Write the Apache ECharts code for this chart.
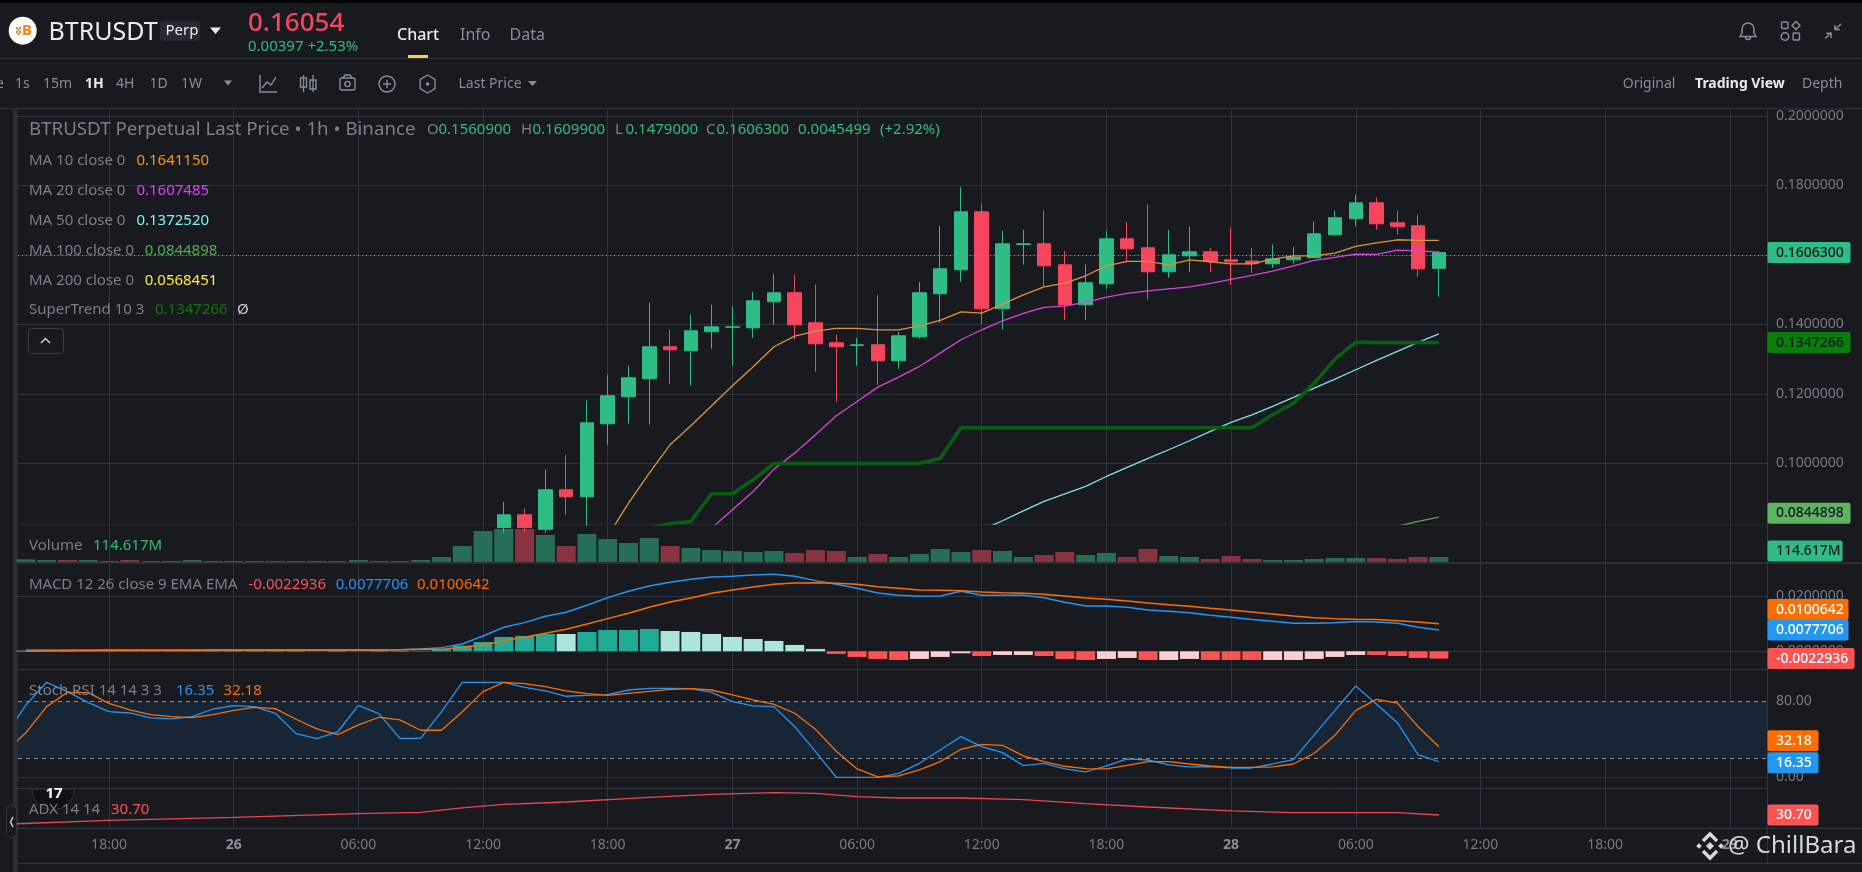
<!DOCTYPE html>
<html><head><meta charset="utf-8">
<style>html,body{margin:0;padding:0;background:#000;overflow:hidden}#c{width:1862px;height:872px}</style>
<script src="https://cdn.jsdelivr.net/npm/echarts@6/dist/echarts.min.js"></script>
</head><body><div id="c"></div>
<script>
// ---------- data (x index = hours since 25th 14:00) ----------
const xTickIdx = [4,10,16,22,28,34,40,46,52,58,64,70,76,82];
const xTickLabels = ['18:00','26','06:00','12:00','18:00','27','06:00','12:00','18:00','28','06:00','12:00','18:00','29'];
const priceTicks = [0.10,0.12,0.14,0.16,0.18,0.20];
const macdTicks = [0,0.02];
const stochTicks = [0,40,80];

const candleStart = 23;
const candleOpen = [.0815,.08518,.0810,.09238,.09036,.11137,.11914,.12432,.13353,.13238,.13784,.13915,.13899,.14648,.14907,.14043,.13468,.1339,.1341,.1295,.1364,.14878,.15568,.17237,.14446,.16297,.16317,.15712,.14561,.15165,.1646,.16201,.15511,.15971,.16086,.15856,.15818,.15741,.15856,.15914,.16576,.17036,.17496,.16921,.16835,.15609];
const candleClose = [.08518,.0815,.09238,.09036,.11166,.11943,.12461,.13353,.13266,.13813,.13928,.13928,.14676,.14907,.13986,.13439,.13353,.1341,.1295,.13669,.14907,.15597,.17237,.14446,.16317,.16317,.15683,.14561,.15194,.1646,.16173,.15511,.16,.16086,.15818,.15799,.15741,.15885,.15933,.16604,.17065,.17496,.16892,.16806,.15597,.16063];
const candleLow = [.0800,.0800,.0800,.08518,.0820,.10533,.11137,.11108,.12288,.1223,.13295,.12806,.13612,.13986,.13554,.12633,.1177,.12806,.12259,.12719,.13583,.14043,.15223,.14014,.13842,.15712,.15079,.1413,.1413,.15022,.15799,.14705,.15338,.15511,.15511,.15137,.15482,.15626,.15741,.15914,.16547,.16835,.16719,.16576,.15367,.1479];
const candleHigh = [.08892,.08691,.09813,.10245,.11799,.12547,.12806,.14619,.13842,.14273,.14561,.14504,.14935,.15453,.15424,.15137,.13698,.13612,.14849,.13784,.15223,.16835,.17957,.17468,.16691,.16719,.17266,.16115,.15712,.16691,.1695,.17439,.16719,.16806,.16201,.16777,.16201,.16288,.1623,.1695,.17266,.17727,.1764,.17266,.17151,.16099];
const lastClose = 0.16063;

const ma10Start = 28;
const ma10 = [.07895,.08854,.09717,.10533,.11079,.11655,.1223,.12777,.13353,.1366,.13803,.1388,.1388,.13842,.13842,.13957,.1411,.1436,.14321,.1458,.14849,.15079,.15185,.15396,.15683,.15808,.15808,.15712,.15856,.15799,.15741,.15741,.15875,.15971,.15971,.16048,.1624,.16345,.16432,.16412,.16412];
const ma20Start = 33;
const ma20 = [.08135,.08662,.0919,.09832,.10293,.1082,.11367,.1178,.12192,.1248,.12787,.1317,.13554,.13842,.14101,.14312,.14484,.14532,.14628,.14782,.14887,.14964,.15022,.15079,.15175,.1529,.15405,.1553,.15683,.15837,.15923,.16019,.1601,.16134,.16115,.16075];
const ma50Start = 46;
const ma50 = [.08087,.08346,.08633,.08902,.09123,.09334,.09621,.0988,.10139,.10389,.10648,.10916,.11175,.11396,.11636,.11895,.12163,.12422,.12691,.12959,.13218,.13477,.13725];
const ma100Start = 66;
const ma100 = [.08192,.08326,.08449];
const superStart = 29;
const superTrend = [.0810,.0812,.08269,.08326,.09123,.09123,.09525,.09995,.09995,.09995,.09995,.09995,.09995,.09995,.09995,.10139,.11022,.11022,.11022,.11022,.11022,.11022,.11022,.11022,.11022,.11022,.11022,.11022,.11022,.11022,.11022,.11396,.11732,.12307,.12998,.13487,.13473,.13473,.13473,.13473];

const volumeM = [61,46,46,46,23,46,23,23,46,23,23,23,23,23,23,23,46,23,23,46,115,367,711,756,756,619,367,642,527,435,550,367,321,275,252,229,252,206,275,252,115,183,115,183,298,229,275,252,115,160,229,160,206,115,298,138,115,69,138,69,46,46,69,92,92,92,69,115,114.617];
const volumeUp = [1,1,0,1,1,0,0,1,1,1,1,0,0,0,1,0,1,0,0,1,1,1,1,1,0,1,0,1,1,1,1,0,1,1,1,1,1,0,0,0,1,0,1,1,1,1,0,1,1,0,0,1,1,0,0,1,1,0,0,0,1,1,1,1,1,0,0,0,1];

const macdHist = [.0002,.0002,.0002,.0002,.0002,.0002,.0002,.0002,.0002,.0002,.0002,.0002,.0002,.0002,.0002,.0002,.0002,.0002,-.0002,.0002,.00073,.00206,.00339,.00521,.00558,.0063,.0063,.00703,.00776,.00776,.00812,.00739,.00703,.0063,.00521,.00448,.00376,.0023,.00085,-.00097,-.00206,-.00279,-.00315,-.00279,-.00206,-.00073,-.0017,-.00133,-.00133,-.0017,-.00279,-.00315,-.00279,-.00242,-.00315,-.00315,-.00279,-.00315,-.00315,-.00315,-.00315,-.00315,-.00279,-.00206,-.00133,-.00133,-.0017,-.00242,-.00265];
const macdTone = 'LLLLLLLLLLLLLLTLTLRTTTTTTTLTTTTLLLLLLLLRRRRPPPRPPRRRPPRPPRRRPPPPPRRRR'.split('');
const macdLine = [.0005,.0005,.0005,.0005,.0005,.0005,.0005,.0005,.0005,.0005,.0006,.0006,.0006,.0006,.0006,.0006,.0006,.0006,.0006,.00085,.00133,.00267,.00558,.00873,.01042,.01273,.01418,.01673,.01951,.02182,.02376,.02509,.02618,.02703,.02727,.02776,.028,.02727,.0257,.02436,.02291,.02121,.02036,.02,.02012,.02182,.02036,.02036,.02036,.01951,.01782,.01648,.01648,.016,.01503,.01455,.01406,.01309,.01236,.01152,.01091,.01018,.01018,.01042,.01079,.01067,.01018,.00873,.00777];
const macdSignal = [.0000,.0001,.0002,.0003,.0004,.0004,.0004,.0004,.0004,.0005,.0005,.0005,.0005,.0005,.0005,.0005,.0005,.0005,.0006,.00073,.00073,.00145,.0023,.00388,.00509,.00655,.008,.00994,.01188,.01382,.016,.01794,.01939,.02109,.0223,.02339,.02436,.02485,.02497,.02473,.02436,.02351,.02291,.0223,.02218,.02206,.02158,.02133,.02109,.02073,.02012,.01939,.01891,.0183,.01758,.01697,.01636,.01564,.01503,.0143,.01358,.01285,.01224,.01188,.01164,.01152,.01115,.01067,.01006];

const stochStart = -1;
const stochK = [42.8,76.1,100,90.2,78.6,69.1,67.7,62.5,61.4,63.9,71.9,75.4,74.4,67.4,46,40.7,47.7,75.8,66.7,41,41,69.1,100,100,100,94.7,90.9,85.3,86.3,87,91.9,93.7,93.7,93.3,89.5,79.6,75.1,74.4,53.3,27,0,0,0,4.2,14.7,28.8,42.8,32.3,26,12.3,14.7,8.8,5.6,11.9,19.3,18.2,13,10.9,11.2,9.8,9.8,14,18.6,44.6,70.5,96.1,76.8,57.5,23.9,16.35];
const stochD = [27,47,74.4,89.5,89.1,77.9,70.9,66,63.9,62.8,66,70.5,73.7,72.3,61.1,50.9,44.9,55.1,63.2,60.4,49.5,49.5,69.1,90.2,100,98.6,95.4,90.9,88.1,86.3,88.4,90.5,92.6,93.3,91.9,86.7,81.4,76.8,67.4,50.5,27.4,8.8,.4,1.4,7.7,16.5,29.5,34.7,33.7,22.5,16.5,11.6,9.1,8.8,12.6,16.5,16.5,14,11.9,10.5,10.5,10.9,14,25.3,44.2,70.5,82.1,78.2,53.3,32.18];

const adxIdx = [-1,4,10,16,19,21,23,26,30,33,36,38,40,42,45,48,51,54,58,61,66,68];
const adxVal = [16.5,22.5,27.1,32.75,34.8,41.5,47.1,50.7,57.9,62.5,65.05,64,58.9,56.9,56.9,54.3,48.1,43,36.9,34.3,34.3,30.7];

// ---------- palette / layout ----------
const BG='#181A20', GRID='#30343E', SEP='#2F3542', MUTED='#787B86', HDR='#848E9C';
const UP='#2EBD85', DOWN='#F6465D';
const toneColor={T:'#22AB94',L:'#ACE5DC',R:'#FF5252',P:'#FFCDD2'};
const PLOT_L=18, PLOT_R=1767;
const FONT='"Noto Sans"';
const X_MIN=-0.38, X_MAX=83.79;
const panes=[
 {top:108,height:416,min:0.08253,max:0.20224},
 {top:524,height:38,min:0,max:871},
 {top:562.7,height:106.6,min:-0.00655,max:0.03222},
 {top:669.3,height:119,min:-11.6,max:113.7},
 {top:788.3,height:40,min:10.2,max:71.8}
];
const pts=(start,vals)=>vals.map((v,k)=>[start+k,v]);
const lineS=(name,g,data,color,width)=>({name,type:'line',xAxisIndex:g,yAxisIndex:g,data,showSymbol:false,symbol:'none',clip:true,animation:false,silent:true,lineStyle:{color,width},z:4});

const chart=echarts.init(document.getElementById('c'),null,{renderer:'canvas',width:1862,height:872});

const yTicks=[priceTicks,null,macdTicks,stochTicks,null];
const yFmt=[v=>v.toFixed(7),null,v=>v.toFixed(7),v=>v.toFixed(2),null];

const option={
 backgroundColor:BG,animation:false,
 grid:panes.map(p=>({left:PLOT_L,width:PLOT_R-PLOT_L,top:p.top,height:p.height,containLabel:false,show:false})),
 xAxis:panes.map((p,i)=>({
   type:'value',gridIndex:i,min:X_MIN,max:X_MAX,
   axisLine:{show:false},
   axisTick:{show:false,customValues:xTickIdx},
   splitLine:{show:true,lineStyle:{color:GRID,width:1}},
   axisLabel:i===4?{show:true,customValues:xTickIdx,color:MUTED,fontSize:14,fontFamily:FONT,margin:10,
      hideOverlap:false,showMinLabel:true,showMaxLabel:true,
      formatter:v=>{const s=xTickLabels[xTickIdx.indexOf(v)]||'';return s.length===2?'{b|'+s+'}':s;},
      rich:{b:{fontWeight:'bold',fontSize:14,fontFamily:FONT,color:'#8A8F9B'}}}:{show:false}
 })),
 yAxis:panes.map((p,i)=>{
   const t=yTicks[i];
   return {type:'value',gridIndex:i,position:'right',min:p.min,max:p.max,
     axisLine:{show:false},
     axisTick:t?{show:false,customValues:t}:{show:false},
     splitLine:{show:!!t,lineStyle:{color:GRID,width:1}},
     axisLabel:t?{show:true,customValues:t,formatter:yFmt[i],color:MUTED,fontSize:14,fontFamily:FONT,margin:9,padding:[2,0,0,0],showMinLabel:true,showMaxLabel:true}:{show:false}
   };
 }),
 series:[
  {name:'Candles',type:'candlestick',xAxisIndex:0,yAxisIndex:0,barWidth:14,clip:true,silent:true,z:3,animation:false,
   data:candleOpen.map((o,k)=>[candleStart+k,o,candleClose[k],candleLow[k],candleHigh[k]]),
   encode:{x:0,y:[1,2,3,4]},
   itemStyle:{color:UP,color0:DOWN,borderColor:UP,borderColor0:DOWN,borderWidth:1},
   markLine:{silent:true,symbol:'none',animation:false,label:{show:false},
     lineStyle:{color:UP,type:[1,3],width:1},data:[{yAxis:lastClose}]}},
  lineS('MA10',0,pts(ma10Start,ma10),'#E2933A',1.3),
  lineS('MA20',0,pts(ma20Start,ma20),'#D944DC',1.3),
  lineS('MA50',0,pts(ma50Start,ma50),'#7FE3E8',1.3),
  lineS('MA100',0,pts(ma100Start,ma100),'#5BA85E',1.3),
  lineS('SuperTrend',0,pts(superStart,superTrend),'#0B5E10',3.6),
  {name:'Volume',type:'bar',xAxisIndex:1,yAxisIndex:1,barWidth:19,silent:true,animation:false,z:3,
   data:volumeM.map((v,k)=>({value:[k,v],itemStyle:{color:volumeUp[k]?'#266E58':'#8A3340'}}))},
  {name:'Hist',type:'bar',xAxisIndex:2,yAxisIndex:2,barWidth:19,silent:true,animation:false,z:3,
   data:macdHist.map((v,k)=>({value:[k,v],itemStyle:{color:toneColor[macdTone[k]]}}))},
  lineS('MACD',2,pts(0,macdLine),'#2196F3',1.5),
  lineS('Signal',2,pts(0,macdSignal),'#FF6D00',1.5),
  {name:'Band',type:'line',xAxisIndex:3,yAxisIndex:3,data:[],silent:true,animation:false,z:1,
   markArea:{silent:true,animation:false,itemStyle:{color:'#182535'},data:[[{yAxis:20},{yAxis:80}]]},
   markLine:{silent:true,symbol:'none',animation:false,label:{show:false},z:2,
     lineStyle:{color:'#8D929C',type:[4,4],width:1},data:[{yAxis:80},{yAxis:20}]}},
  lineS('K',3,pts(stochStart,stochK),'#2196F3',1.3),
  lineS('D',3,pts(stochStart,stochD),'#FF6D00',1.3),
  lineS('ADX',4,adxIdx.map((x,k)=>[x,adxVal[k]]),'#F0444F',1.3)
 ]
};
chart.setOption(option);

// ---------- chrome drawn as graphics ----------
const G=[];
const T=(x,y,text,fill,size,o={})=>G.push({type:'text',z:60,silent:true,style:{x,y,text,fill,font:(o.w||'normal')+' '+size+'px '+(o.f||FONT),align:o.a||'left',verticalAlign:'middle',opacity:o.op==null?1:o.op}});
const R=(x,y,w,h,fill,r,z)=>G.push({type:'rect',z:z||50,silent:true,shape:{x,y,width:w,height:h,r:r||0},style:{fill}});
const HL=(x1,x2,y,c,w,z)=>G.push({type:'line',z:z||2,silent:true,shape:{x1,y1:y,x2,y2:y},style:{stroke:c,lineWidth:w||1}});
const VL=(x,y1,y2,c,w,z)=>G.push({type:'line',z:z||2,silent:true,shape:{x1:x,y1,x2:x,y2},style:{stroke:c,lineWidth:w||1}});
const P=(points,fill,stroke,w)=>G.push({type:fill?'polygon':'polyline',z:60,silent:true,shape:{points},style:fill?{fill}:{stroke,lineWidth:w||1.4,fill:null}});
const C=(cx,cy,r,fill,stroke,w)=>G.push({type:'circle',z:60,silent:true,shape:{cx,cy,r},style:{fill:fill||null,stroke:stroke||null,lineWidth:w||1.4}});
const S=(x,y,wd,h,stroke,r)=>G.push({type:'rect',z:60,silent:true,shape:{x,y,width:wd,height:h,r:r||0},style:{fill:null,stroke,lineWidth:1.4}});
const A=(cx,cy,r,a0,a1,stroke,w)=>G.push({type:'arc',z:60,silent:true,shape:{cx,cy,r,startAngle:a0,endAngle:a1,clockwise:true},style:{fill:null,stroke,lineWidth:w||1.5}});

// frame
R(0,0,1862,3,'#000',0,1);
HL(0,1862,58.5,SEP,1); HL(0,1862,108.5,SEP,1);
R(13,108,5,764,'#2B2D32',0,3);
HL(18,1767,524.5,'#2A2C30',1,3);
HL(18,1862,563,'#2C2E33',2,3);
HL(18,1767,669.5,SEP,1,3);
HL(18,1767,788.5,SEP,1,3);
HL(18,1862,828.5,SEP,1,3);
HL(18,1862,863.5,SEP,1,3);
VL(1767.5,108,863,SEP,1,3);

// header
C(22.7,30.7,14,'#fff');
T(27,31,'B','#F0820F',15,{w:'bold',a:'center'});
[[16,27],[19,27],[16,31],[19,31],[17.5,29],[17.5,33]].forEach(p=>R(p[0],p[1],2,2,'#F0820F',0,61));
T(48.5,33,'BTRUSDT','#EAECEF',25);
R(160,21,40,20,'#252A33',3,55);
T(165.5,31,'Perp','#EAECEF',15);
P([[210,27.5],[221,27.5],[215.5,34]],'#EAECEF');
T(248,24,'0.16054','#F6465D',26,{w:'500'});
T(248,47,'0.00397 +2.53%','#2EBD85',15);
T(397,35,'Chart','#EAECEF',16,{w:'500'});
R(408,55,20,3,'#FCD535',0,55);
T(460,35,'Info',HDR,16);
T(509.5,35,'Data',HDR,16);
// bell
A(1748,29,6,Math.PI,2*Math.PI,HDR);
P([[1742,29],[1742,33],[1740,36.5],[1756,36.5],[1754,33],[1754,29]],null,HDR,1.5);
A(1748,37,2.5,0,Math.PI,HDR);
// apps
S(1781.5,22,6.5,6.5,HDR,1); S(1793,33,6.5,7,HDR,1); C(1785,36.5,3.8,null,HDR,1.5);
P([[1796,21.5],[1800,25.5],[1796,29.5],[1792,25.5],[1796,21.5]],null,HDR,1.5);
// shrink
P([[1841,24],[1835,29.5]],null,HDR,1.5); P([[1835,25],[1835,29.5],[1840,29.5]],null,HDR,1.5);
P([[1825,38.5],[1831,33]],null,HDR,1.5); P([[1826,33.5],[1831,33],[1831,38]],null,HDR,1.5);

// toolbar
T(-4,84,'e',HDR,14);
[['1s',15],['15m',43],['4H',116],['1D',149.5],['1W',181]].forEach(a=>T(a[1],84,a[0],HDR,14));
T(85,84,'1H','#EAECEF',14,{w:'bold'});
P([[224,80.5],[232,80.5],[228,85.5]],HDR);
// chart icon
P([[260,75],[260,92],[277,92]],null,HDR); P([[262,88],[267,82],[271,85],[276,77]],null,HDR);
// candle icon
VL(303.5,75,92,HDR,1.3,60); VL(313,75,92,HDR,1.3,60); S(300.5,78,6,9,HDR); S(310,80,6,9,HDR);
// camera
S(340,78,15,12,HDR,2); C(347.5,84,2.6,null,HDR); P([[343,78],[345,75],[350,75],[352,78]],null,HDR);
// plus circle
C(387,84,8,null,HDR); P([[383,84],[391,84]],null,HDR); P([[387,80],[387,88]],null,HDR);
// hex dot
P([[427.6,75],[435,79.5],[435,88.5],[427.6,93],[420.2,88.5],[420.2,79.5],[427.6,75]],null,HDR); C(427.6,84,1.8,HDR);
T(458.5,84,'Last Price',HDR,14);
P([[528,81],[537,81],[532.5,86]],HDR);
T(1622.7,84,'Original',HDR,14);
T(1695,84,'Trading View','#EAECEF',14,{w:'bold'});
T(1802,84,'Depth',HDR,14);

// legend
const LG='#7A7F8A';
T(29,130,'BTRUSDT Perpetual Last Price • 1h • Binance',LG,18.7);
[['O',427,'0.1560900',438.5],['H',521,'0.1609900',532.5],['L',615,'0.1479000',625.5],['C',706,'0.1606300',716.5]].forEach(a=>{T(a[1],130,a[0],LG,15);T(a[3],130,a[2],UP,15);});
T(798,130,'0.0045499',UP,15); T(880,130,'(+2.92%)',UP,15);
T(29,161,'MA 10 close 0',LG,15); T(136.4,161,'0.1641150','#F7931E',15);
T(29,191,'MA 20 close 0',LG,15); T(136.4,191,'0.1607485','#E040FB',15);
T(29,221,'MA 50 close 0',LG,15); T(136.4,221,'0.1372520','#7BF5F5',15);
T(29,251,'MA 100 close 0',LG,15); T(144.7,251,'0.0844898','#4CAF50',15);
T(29,281,'MA 200 close 0',LG,15); T(144.7,281,'0.0568451','#FFEB3B',15);
T(29,310,'SuperTrend 10 3',LG,15); T(155,310,'0.1347266','#0B7A0B',15); T(237,310,'Ø','#C9CDD3',15);
G.push({type:'rect',z:60,silent:true,shape:{x:28.5,y:328.5,width:35,height:25,r:3},style:{fill:BG,stroke:'#3A3D45',lineWidth:1}});
P([[41,343],[45.5,338.5],[50,343]],null,'#C9CDD3',1.5);

T(29,546,'Volume',LG,15); T(93,546,'114.617M',UP,15);
T(29,585,'MACD 12 26 close 9 EMA EMA',LG,15);
T(248.5,585,'-0.0022936','#FF5252',15); T(335.7,585,'0.0077706','#2196F3',15); T(417,585,'0.0100642','#FF6D00',15);
T(29,691,'Stoch RSI 14 14 3 3',LG,15); T(176,691,'16.35','#2196F3',15); T(223.6,691,'32.18','#FF6D00',15);
G.push({type:'sector',z:55,silent:true,shape:{cx:53,cy:789,r:21,r0:0,startAngle:0,endAngle:Math.PI,clockwise:true},style:{fill:'#101115',stroke:'#2F3138',lineWidth:1}});
T(54,794,'17','#fff',15,{w:'bold',a:'center'});
T(29,810,'ADX 14 14',LG,15); T(111,810,'30.70','#FF5252',15);
// sidebar toggle
G.push({type:'rect',z:60,silent:true,shape:{x:6.5,y:805.5,width:10,height:32,r:5},style:{fill:BG,stroke:'#33353B',lineWidth:1}});
P([[13,817],[10.5,822],[13,827]],null,'#C9CDD3',1.5);

// value tags positioned through the axis scale
const tag=(yIdx,val,txt,bg,dark,w,dy)=>{
 const y=chart.convertToPixel({yAxisIndex:yIdx},val)+(dy||0);
 R(1767.5,y-10.5,w,21,bg,2,55);
 T(1776,y,txt,dark?'#131722':'#fff',14,{w:'500'});
};
tag(0,0.16063,'0.1606300',UP,true,83,0);
tag(0,0.1347266,'0.1347266','#0A7E0A',true,83,0);
tag(0,0.0844898,'0.0844898','#5CB360',true,83,-4);
tag(1,114.617,'114.617M',UP,true,75,-6);
tag(2,0.0100642,'0.0100642','#FF6D00',false,81,-14);
tag(2,0.0077706,'0.0077706','#2196F3',false,81,0);
tag(2,-0.0022936,'-0.0022936','#FF5252',false,87,1);
tag(3,32.18,'32.18','#FF6D00',false,51,-6);
tag(3,16.35,'16.35','#2196F3',false,51,1);
tag(4,30.70,'30.70','#FF5252',false,51,0);

// watermark
const WM='#D9D9D9';
[[1710,846,4],[1699,846,2.8],[1721,846,2.8]].forEach(d=>P([[d[0],d[1]-d[2]],[d[0]+d[2],d[1]],[d[0],d[1]+d[2]],[d[0]-d[2],d[1]]],WM));
P([[1703,841],[1710,834],[1717,841]],null,WM,3.4);
P([[1703,851],[1710,858],[1717,851]],null,WM,3.4);
T(1728,846,'@ ChillBara',WM,24);

chart.setOption({graphic:{elements:G}});
</script></body></html>
